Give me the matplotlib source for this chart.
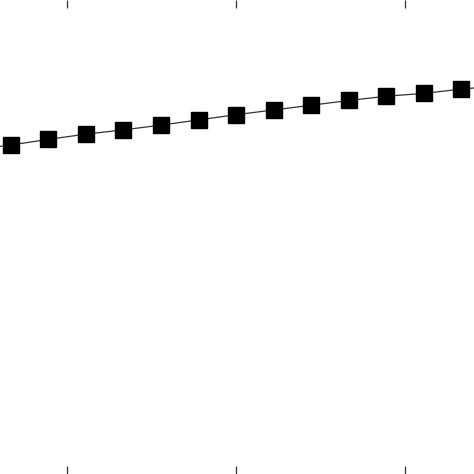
import matplotlib
matplotlib.use("Agg")
import matplotlib.pyplot as plt

# x positions (degrees) and values
angle = [-50, -30, -10, 10, 30, 50, 70, 90, 110, 130, 150, 170, 190, 210, 230]
value = [0.684, 0.694, 0.706, 0.717, 0.726, 0.736, 0.747, 0.758, 0.768,
         0.778, 0.788, 0.797, 0.803, 0.812, 0.819]
xticks = [0, 90, 180]

fig = plt.figure(figsize=(4.74, 4.74), dpi=100)
ax = fig.add_axes([0, 0, 1, 1])

# only the points inside the view get markers; the end ones just carry the line
ax.plot(angle, value, color="#333333", linewidth=0.9, zorder=1)
ax.plot(angle[1:-1], value[1:-1], linestyle="none", marker="s",
        markersize=11.5, color="black", zorder=2)

ax.set_xlim(-35.7, 216.7)
ax.set_ylim(0, 1)
ax.set_xticks(xticks)
ax.set_yticks([])
ax.tick_params(axis="x", direction="in", top=True, bottom=True,
               labelbottom=False, length=6, width=0.9, color="#333333")
for s in ax.spines.values():
    s.set_visible(False)

fig.savefig("out.png", dpi=100)
